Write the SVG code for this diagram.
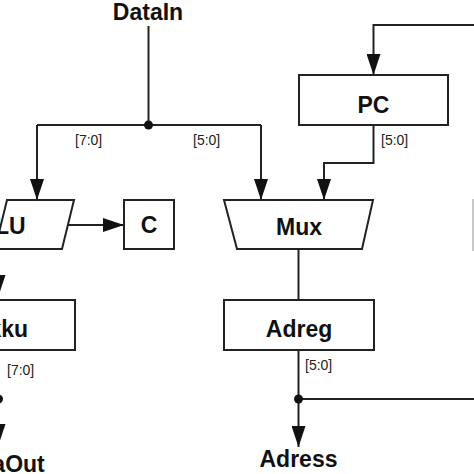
<svg xmlns="http://www.w3.org/2000/svg" width="474" height="474" viewBox="0 0 474 474">
<style>
.shape{fill:#fff;stroke:#222;stroke-width:2}
.wire{fill:none;stroke:#222;stroke-width:2}
.big{font-family:"Liberation Sans",Arial,Helvetica,sans-serif;font-weight:bold;font-size:23px;fill:#111;text-anchor:middle}
.small{font-family:"Liberation Sans",Arial,Helvetica,sans-serif;font-size:14px;fill:#222}
.dot{fill:#111}
</style>
<defs>
<marker id="arr" viewBox="0 0 21 14" refX="21" refY="7" markerWidth="21" markerHeight="14" markerUnits="userSpaceOnUse" orient="auto">
<path d="M0,0 L21,7 L0,14 Z" fill="#111"/>
</marker>
</defs>
<rect width="474" height="474" fill="#fff"/>
<g id="connectors">
<path class="wire" d="M148.5,26 V125"/>
<path class="wire" d="M37,125 H261"/>
<path class="wire" d="M37,125 V200" marker-end="url(#arr)"/>
<path class="wire" d="M261,125 V200" marker-end="url(#arr)"/>
<path class="wire" d="M474,25 H373.5 V75" marker-end="url(#arr)"/>
<path class="wire" d="M373.5,125 V163 H324 V200" marker-end="url(#arr)"/>
<path class="wire" d="M68,225 H124" marker-end="url(#arr)"/>
<path class="wire" d="M-1.5,249 V296" marker-end="url(#arr)"/>
<path class="wire" d="M-1.5,350 V445" marker-end="url(#arr)"/>
<path class="wire" d="M298.5,249 V300"/>
<path class="wire" d="M298.5,350 V447" marker-end="url(#arr)"/>
<path class="wire" d="M298.5,399 H474"/>
<circle class="dot" cx="148.5" cy="125" r="4.5"/>
<circle class="dot" cx="-1.5" cy="399" r="4.5"/>
<circle class="dot" cx="298.5" cy="399" r="4.5"/>
<text class="small" x="75" y="145">[7:0]</text>
<text class="small" x="193" y="145">[5:0]</text>
<text class="small" x="381" y="145">[5:0]</text>
<text class="small" x="7" y="375">[7:0]</text>
<text class="small" x="305" y="370">[5:0]</text>
</g>
<g id="DataIn"><text class="big" x="148" y="20">DataIn</text></g>
<g id="PC">
<rect class="shape" x="299" y="75" width="149" height="50"/>
<text class="big" x="373.5" y="113">PC</text>
</g>
<g id="ALU">
<polygon class="shape" points="7,200 74,200 62,249 -5,249"/>
<text class="big" x="2" y="234">ALU</text>
</g>
<g id="C">
<rect class="shape" x="124" y="200" width="50" height="49"/>
<text class="big" x="149" y="233">C</text>
</g>
<g id="Mux">
<polygon class="shape" points="224,200 373,200 362,249 237,249"/>
<text class="big" x="299" y="235">Mux</text>
</g>
<g id="Akku">
<rect class="shape" x="-75" y="300" width="150" height="50"/>
<text class="big" x="0" y="337">Akku</text>
</g>
<g id="Adreg">
<rect class="shape" x="224" y="300" width="150" height="50"/>
<text class="big" x="299" y="337">Adreg</text>
</g>
<g id="DataOut"><text class="big" x="0" y="472">DataOut</text></g>
<g id="Adress"><text class="big" x="298.5" y="467">Adress</text></g>
<g id="edge"><rect x="472" y="199" width="2" height="52" fill="#c8c8c8"/></g>
</svg>
